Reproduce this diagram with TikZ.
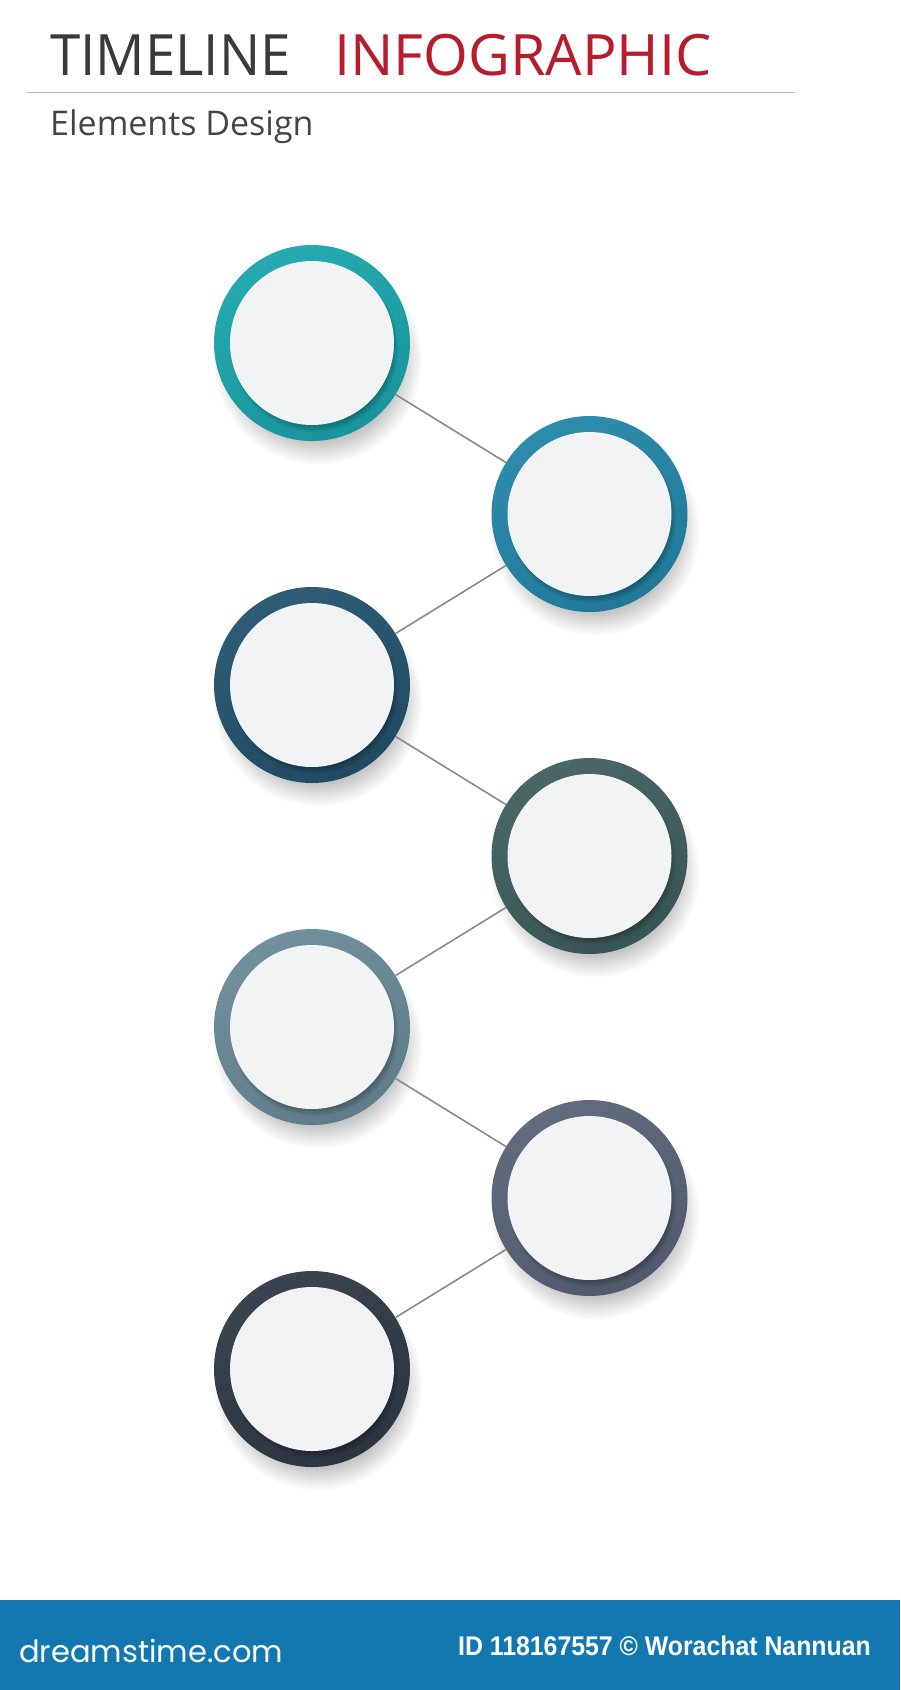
\documentclass[tikz,border=0pt]{standalone}
\usepackage{fontspec}
\setmainfont{Open Sans}
\newfontfamily\logofont{Poppins}
\newfontfamily\idfont{Liberation Sans}
\definecolor{ca}{HTML}{1BA5AD}
\definecolor{cb}{HTML}{2386A8}
\definecolor{cc}{HTML}{25536E}
\definecolor{cd}{HTML}{3F5F5F}
\definecolor{ce}{HTML}{6A8A97}
\definecolor{cf}{HTML}{596478}
\definecolor{cg}{HTML}{303A48}
\definecolor{titlegray}{HTML}{3A3A3C}
\definecolor{titlered}{HTML}{B71C2C}
\definecolor{subgray}{HTML}{454545}
\definecolor{rulegray}{HTML}{B5B5B5}
\definecolor{conngray}{HTML}{8A8A8A}
\definecolor{innerfill}{HTML}{F1F3F4}
\definecolor{barblue}{HTML}{1378B0}
\tikzset{
  ring/.style={circle, inner sep=0pt, minimum size=196pt,
    top color=#1!95!white, bottom color=#1!90!black, shading angle=25},
  disc/.style={circle, inner sep=0pt, minimum size=164pt, fill=innerfill},
  conn/.style={draw=conngray, line width=1.6pt},
}
\begin{document}
\begin{tikzpicture}[x=1pt,y=-1pt]
\useasboundingbox (0,0) rectangle (900,1690);
\fill[white] (0,0) rectangle (900,1690);

% title
\node[anchor=base west, inner sep=0pt, text=titlegray, font=\fontsize{57}{60}\selectfont] (t1) at (50,75.5) {\scalebox{0.96}[1]{TIMELINE}};
\node[anchor=base west, inner sep=0pt, text=titlered, font=\fontsize{57}{60}\selectfont] (t2) at (334,75.5) {\scalebox{1.01}[1]{INFOGRAPHIC}};
\coordinate (r1) at (27,92.5);
\coordinate (r2) at (795,92.5);
\draw[rulegray, line width=1pt] (r1) -- (r2);
\node[anchor=base west, inner sep=0pt, text=subgray, font=\fontsize{34}{38}\selectfont] (t3) at (50,135) {Elements Design};

% shadows
\foreach \x/\y in {312/343, 589.5/514, 312/685, 589.5/856, 312/1027, 589.5/1198, 312/1369}{
  \foreach \k in {0,...,13}{
    \fill[black, opacity=0.018] (\x+6,\y+17) circle ({104-\k*2});
  }
}

% rings
\foreach \x/\y/\c/\i in {312/343/ca/1, 589.5/514/cb/2, 312/685/cc/3, 589.5/856/cd/4, 312/1027/ce/5, 589.5/1198/cf/6, 312/1369/cg/7}{
  \node[ring=\c] (n\i) at (\x,\y) {};
  \foreach \k in {0,...,5}{
    \fill[black, opacity=0.045] (\x+2.5,\y+5) circle ({84-\k*1.2});
  }
  \node[disc] (d\i) at (\x,\y) {};
}

% connectors
\draw[conn] (n1) -- (n2);
\draw[conn] (n2) -- (n3);
\draw[conn] (n3) -- (n4);
\draw[conn] (n4) -- (n5);
\draw[conn] (n5) -- (n6);
\draw[conn] (n6) -- (n7);

% bottom bar
\fill[barblue] (0,1600) rectangle (900,1690);
\node[anchor=west, inner sep=0pt, text=white] (logo) at (19,1651) {\resizebox{264pt}{!}{\logofont\fontseries{m}dreamstime.com}};
\node[anchor=base east, inner sep=0pt, text=white] (idtext) at (871,1655) {\scalebox{0.92}[1]{\idfont\bfseries\fontsize{27}{30}\selectfont ID 118167557 © Worachat Nannuan}};
\end{tikzpicture}
\end{document}
